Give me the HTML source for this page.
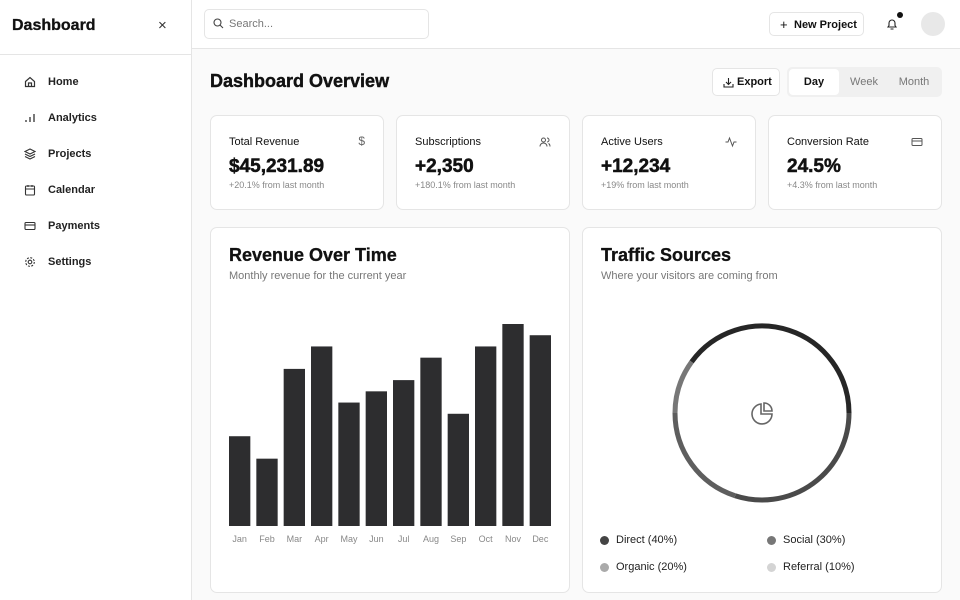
<!DOCTYPE html>
<html><head><meta charset="utf-8">
<style>
*{box-sizing:border-box;margin:0;padding:0}
body{width:960px;height:600px;overflow:hidden;font-family:"Liberation Sans",sans-serif;background:#fafafa;color:#111;position:relative}
.sidebar{position:absolute;left:0;top:0;width:192px;height:600px;background:#fff;border-right:1px solid #e5e5e5}
.brand{position:absolute;left:12px;top:17px;font-size:16px;font-weight:700;-webkit-text-stroke:0.3px #111}
.close{position:absolute;left:158px;top:17px;font-size:15px;color:#333}
.sb-line{position:absolute;left:0;top:54px;width:192px;border-top:1px solid #e5e5e5}
.nav{position:absolute;left:24px;font-size:11px;font-weight:700;color:#222}
.nav svg{position:absolute;left:0;top:0}
.nav span{position:absolute;left:24px;top:0;white-space:nowrap}
.topbar{position:absolute;left:192px;top:0;width:768px;height:49px;background:#fff;border-bottom:1px solid #e5e5e5}
.search{position:absolute;left:12px;top:9px;width:225px;height:30px;border:1px solid #e5e5e5;border-radius:5px;font-size:11px;color:#777}
.btn{position:absolute;background:#fff;border:1px solid #e5e5e5;border-radius:5px;font-size:11px;font-weight:700;color:#111}
.card{position:absolute;background:#fff;border:1px solid #e5e5e5;border-radius:7px}
.kl{position:absolute;left:18px;top:20px;font-size:11px;color:#111}
.kv{position:absolute;left:18px;top:40px;font-size:19px;font-weight:700;-webkit-text-stroke:0.5px #111}
.ks{position:absolute;left:18px;top:64px;font-size:9px;color:#888;white-space:nowrap}
.ki{position:absolute;right:18px;top:20px}
.ct{position:absolute;left:18px;top:17px;font-size:18px;font-weight:700;-webkit-text-stroke:0.3px #111}
.cs{position:absolute;left:18px;top:42px;font-size:11px;color:#777}
.leg{position:absolute;font-size:11px;color:#222}
.leg i{position:absolute;left:-16px;top:2px;width:9px;height:9px;border-radius:50%}
</style></head><body>
<div class="sidebar">
<div class="brand">Dashboard</div>
<div class="close">×</div>
<div class="sb-line"></div>
<div class="nav" style="top:76px"><svg width="12" height="12" viewBox="0 0 12 12" fill="none" stroke="#333" stroke-width="1.2"><path d="M1.5 5.5L6 1.5l4.5 4v5h-9z M4.5 10.5V7h3v3.5"/></svg><span>Home</span></div>
<div class="nav" style="top:112px"><svg width="12" height="12" viewBox="0 0 12 12" stroke="#333" stroke-width="1.3"><path d="M2 10V8M6 10V5M10 10V2"/></svg><span>Analytics</span></div>
<div class="nav" style="top:148px"><svg width="12" height="12" viewBox="0 0 12 12" fill="none" stroke="#333" stroke-width="1.1"><path d="M6 1L1 3.5 6 6l5-2.5z M1 6l5 2.5L11 6 M1 8.5L6 11l5-2.5"/></svg><span>Projects</span></div>
<div class="nav" style="top:184px"><svg width="12" height="12" viewBox="0 0 12 12" fill="none" stroke="#333" stroke-width="1.1"><rect x="1.5" y="2" width="9" height="9" rx="1"/><path d="M1.5 5h9M4 1v2M8 1v2"/></svg><span>Calendar</span></div>
<div class="nav" style="top:220px"><svg width="12" height="12" viewBox="0 0 12 12" fill="none" stroke="#333" stroke-width="1.1"><rect x="1" y="2.5" width="10" height="7" rx="1"/><path d="M1 5h10"/></svg><span>Payments</span></div>
<div class="nav" style="top:256px"><svg width="12" height="12" viewBox="0 0 12 12" fill="none" stroke="#333" stroke-width="1.1"><circle cx="6" cy="6" r="1.8"/><circle cx="6" cy="6" r="4.3" stroke-dasharray="2 1.4"/></svg><span>Settings</span></div>
</div>
<div class="topbar">
<div class="search"><svg style="position:absolute;left:8px;top:8px" width="11" height="11" viewBox="0 0 11 11" fill="none" stroke="#444" stroke-width="1.1"><circle cx="4.5" cy="4.5" r="3.5"/><path d="M7 7l3 3"/></svg><span style="position:absolute;left:24px;top:8px">Search...</span></div>
<div class="btn" style="left:577px;top:12px;width:95px;height:24px"><span style="position:absolute;left:10px;top:4px;font-size:13px;font-weight:normal">+</span><span style="position:absolute;left:24px;top:6px">New Project</span></div>
<svg style="position:absolute;left:693px;top:17px" width="14" height="14" viewBox="0 0 14 14" fill="none" stroke="#222" stroke-width="1.1"><path d="M3 10h8l-1-1.5V6a3 3 0 0 0-6 0v2.5z M5.5 12h3"/></svg>
<div style="position:absolute;left:705px;top:12px;width:6px;height:6px;border-radius:50%;background:#111"></div>
<div style="position:absolute;left:729px;top:12px;width:24px;height:24px;border-radius:50%;background:#e8e8e8"></div>
</div>
<div style="position:absolute;left:210px;top:71px;font-size:18px;font-weight:700;-webkit-text-stroke:0.4px #111">Dashboard Overview</div>
<div class="btn" style="left:712px;top:68px;width:68px;height:28px"><svg style="position:absolute;left:10px;top:8px" width="11" height="11" viewBox="0 0 11 11" fill="none" stroke="#222" stroke-width="1.1"><path d="M5.5 1v6M3 5l2.5 2.5L8 5M1 7v3h9V7"/></svg><span style="position:absolute;left:24px;top:7px">Export</span></div>
<div style="position:absolute;left:787px;top:67px;width:155px;height:30px;background:#f0f0f0;border-radius:5px">
<div style="position:absolute;left:2px;top:2px;width:50px;height:26px;background:#fff;border-radius:4px;font-size:11px;font-weight:700;text-align:center;line-height:26px">Day</div>
<div style="position:absolute;left:56px;top:2px;width:42px;height:26px;font-size:11px;color:#777;text-align:center;line-height:26px">Week</div>
<div style="position:absolute;left:104px;top:2px;width:46px;height:26px;font-size:11px;color:#777;text-align:center;line-height:26px">Month</div>
</div>
<div class="card" style="left:210px;top:115px;width:174px;height:95px"><div class="kl">Total Revenue</div><div class="ki" style="font-size:12px;color:#666;top:18px">$</div><div class="kv">$45,231.89</div><div class="ks">+20.1% from last month</div></div>
<div class="card" style="left:396px;top:115px;width:174px;height:95px"><div class="kl">Subscriptions</div><svg class="ki" width="12" height="12" viewBox="0 0 12 12" fill="none" stroke="#555" stroke-width="1"><circle cx="4.5" cy="4" r="2"/><path d="M1 10.5c0-2 1.5-3.5 3.5-3.5S8 8.5 8 10.5M8 2a2 2 0 0 1 0 4M9.5 7.5c1 .5 1.5 1.5 1.5 3"/></svg><div class="kv">+2,350</div><div class="ks">+180.1% from last month</div></div>
<div class="card" style="left:582px;top:115px;width:174px;height:95px"><div class="kl">Active Users</div><svg class="ki" width="12" height="12" viewBox="0 0 12 12" fill="none" stroke="#555" stroke-width="1"><path d="M0.5 6h2.5l1.5-4 3 8 1.5-4h2.5"/></svg><div class="kv">+12,234</div><div class="ks">+19% from last month</div></div>
<div class="card" style="left:768px;top:115px;width:174px;height:95px"><div class="kl">Conversion Rate</div><svg class="ki" width="12" height="12" viewBox="0 0 12 12" fill="none" stroke="#555" stroke-width="1"><rect x="1" y="2.5" width="10" height="7" rx="1"/><path d="M1 5h10"/></svg><div class="kv">24.5%</div><div class="ks">+4.3% from last month</div></div>
<div class="card" style="left:210px;top:227px;width:360px;height:366px"><div class="ct">Revenue Over Time</div><div class="cs">Monthly revenue for the current year</div></div>
<svg id="bars" style="position:absolute;left:0;top:0" width="960" height="600"></svg>
<div class="card" style="left:582px;top:227px;width:360px;height:366px"><div class="ct">Traffic Sources</div><div class="cs">Where your visitors are coming from</div>
<div class="leg" style="left:33px;top:306px"><i style="background:#444"></i>Direct (40%)</div>
<div class="leg" style="left:200px;top:306px"><i style="background:#777"></i>Social (30%)</div>
<div class="leg" style="left:33px;top:333px"><i style="background:#aaa"></i>Organic (20%)</div>
<div class="leg" style="left:200px;top:333px"><i style="background:#d4d4d4"></i>Referral (10%)</div>
</div>
<svg id="donut" style="position:absolute;left:0;top:0" width="960" height="600"></svg>
<script>
const months=["Jan","Feb","Mar","Apr","May","Jun","Jul","Aug","Sep","Oct","Nov","Dec"];
const revenue=[4000,3000,7000,8000,5500,6000,6500,7500,5000,8000,9000,8500];
const sources=["Direct","Social","Organic","Referral"];
const shares=[40,30,20,10];
const NS="http://www.w3.org/2000/svg";
const bars=document.getElementById('bars');
const x0=229,x1=551,base=526,pxPerUnit=202/9000;
const pitch=(x1-x0+6)/months.length,bw=pitch-6;
function xs(i){return x0+i*pitch;}
function ys(v){return base-v*pxPerUnit;}
months.forEach((m,i)=>{
 const r=document.createElementNS(NS,'rect');
 r.setAttribute('x',xs(i));r.setAttribute('y',ys(revenue[i]));
 r.setAttribute('width',bw);r.setAttribute('height',base-ys(revenue[i]));
 r.setAttribute('fill','#2d2d2f');
 
 
 bars.appendChild(r);
 const t=document.createElementNS(NS,'text');
 t.setAttribute('x',xs(i)+bw/2);t.setAttribute('y',base+16);
 t.setAttribute('text-anchor','middle');t.setAttribute('font-size','9');
 t.setAttribute('fill','#888');t.setAttribute('font-family','Liberation Sans');
 t.textContent=m;
 
 
 bars.appendChild(t);
});
const donut=document.getElementById('donut');
const cx=762,cy=413,R=87,cols=["#262626","#4a4a4a","#5e5e5e","#777777"];
let a=-54;const tot=shares.reduce((s,v)=>s+v,0);
function pt(d){const r=(d-90)*Math.PI/180;return [cx+R*Math.cos(r),cy+R*Math.sin(r)];}
shares.forEach((s,i)=>{
 const sweep=s/tot*360,p1=pt(a),p2=pt(a+sweep);
 const p=document.createElementNS(NS,'path');
 p.setAttribute('d',`M${p1[0]} ${p1[1]}A${R} ${R} 0 ${sweep>180?1:0} 1 ${p2[0]} ${p2[1]}`);
 p.setAttribute('fill','none');p.setAttribute('stroke',cols[i]);p.setAttribute('stroke-width','5');
 
 
 donut.appendChild(p);a+=sweep;
});
const ic=document.createElementNS(NS,'path');
ic.setAttribute('d',`M${cx-1} ${cy-9}A10 10 0 1 0 ${cx+10} ${cy+1}H${cx-1}Z M${cx+2} ${cy-10}A8 8 0 0 1 ${cx+10} ${cy-2}H${cx+2}Z`);
ic.setAttribute('fill','none');ic.setAttribute('stroke','#666');ic.setAttribute('stroke-width','1.6');


donut.appendChild(ic);
</script>
</body></html>
